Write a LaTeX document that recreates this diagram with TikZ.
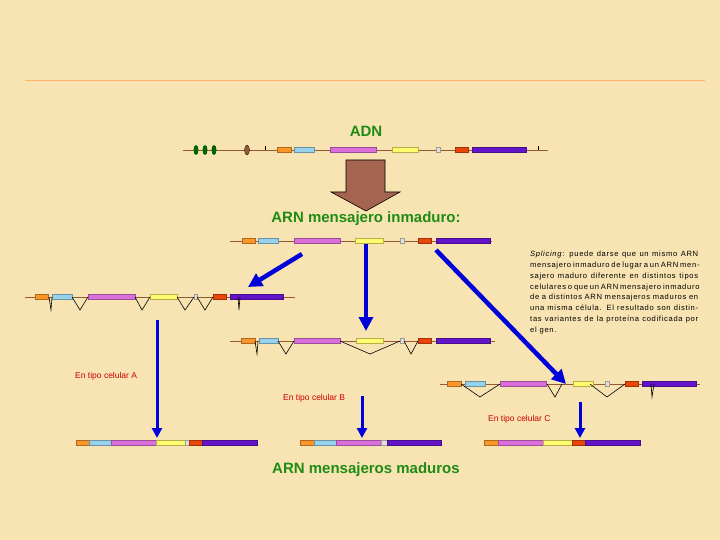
\documentclass[tikz,border=0pt]{standalone}
\usepackage{fontspec}
\setmainfont{Liberation Sans}
\newfontfamily\spacedfont[LetterSpace=9]{Liberation Sans}
\usetikzlibrary{arrows.meta}
\definecolor{bg}{RGB}{248,228,178}
\definecolor{eor}{RGB}{250,150,40}
\definecolor{eblue}{RGB}{150,210,235}
\definecolor{epink}{RGB}{220,110,220}
\definecolor{eyel}{RGB}{255,250,110}
\definecolor{egray}{RGB}{225,225,215}
\definecolor{ered}{RGB}{235,70,10}
\definecolor{epur}{RGB}{100,20,200}
\definecolor{tgreen}{RGB}{30,140,20}
\definecolor{lbrown}{RGB}{150,90,50}
\definecolor{abrown}{RGB}{165,100,80}
\newcommand{\exo}[4]{\fill[#4,draw=#4!70!black,line width=0.5pt] (#1,#3-2.5) rectangle (#2,#3+2.5);}
\newcommand{\vv}[4]{\draw[black,line width=0.6pt] (#1,#3) -- (#4,#3+13) -- (#2,#3);}
\begin{document}
\begin{tikzpicture}[x=1pt,y=-1pt,
  title/.style={font=\bfseries\fontsize{15}{15}\selectfont, text=tgreen, inner sep=0},
  lab/.style={font=\fontsize{8.5}{10}\selectfont, text=red!80!black, anchor=west, inner sep=0},
  barr/.style={blue!85!black, line width=4.5pt, -{Triangle[width=14pt,length=14pt]}},
  tarr/.style={blue!85!black, line width=3pt, -{Triangle[width=10pt,length=10pt]}},
  gl/.style={lbrown, line width=0.7pt}]
\useasboundingbox (0,0) rectangle (720,540);
\fill[bg] (0,0) rectangle (720,540);
\draw[orange!60, line width=0.8pt] (25,80) -- (705,80);

% DNA
\draw[gl] (183,150) -- (548,150);
\foreach \x in {196,205,214} \fill[green!40!black] (\x,150) ellipse (2.5 and 5);
\fill[lbrown,draw=black,line width=0.3pt] (247,150) ellipse (2.5 and 5);
\draw (265,146) -- (265,150); \draw (538,146) -- (538,150);
\exo{277}{291}{150}{eor}\exo{294}{314}{150}{eblue}\exo{330}{376}{150}{epink}
\exo{392}{418}{150}{eyel}\exo{436}{440}{150}{egray}\exo{455}{468}{150}{ered}\exo{472}{526}{150}{epur}

% big arrow
\fill[abrown,draw=black,line width=0.6pt] (346,160) -- (385,160) -- (385,192) -- (400,192) -- (366,211) -- (331,192) -- (346,192) -- cycle;

% titles
\node[title] (adn) at (366,131) {ADN};
\node[title] (inm) at (366,219) {ARN mensajero inmaduro:};
\node[title] (mad) at (366,470) {ARN mensajeros maduros};

% immature
\draw[gl] (230,241) -- (492,241);
\exo{242}{255}{241}{eor}\exo{258}{278}{241}{eblue}\exo{294}{340}{241}{epink}
\exo{355}{383}{241}{eyel}\exo{400}{404}{241}{egray}\exo{418}{431}{241}{ered}\exo{436}{490}{241}{epur}

% row A
\draw[gl] (25,297) -- (295,297);
\exo{35}{48}{297}{eor}\exo{52}{72}{297}{eblue}\exo{88}{135}{297}{epink}
\exo{150}{177}{297}{eyel}\exo{194}{197}{297}{egray}\exo{213}{226}{297}{ered}\exo{230}{283}{297}{epur}
\vv{49}{52}{297}{51}\vv{72}{88}{297}{80}\vv{135}{150}{297}{142}\vv{177}{194}{297}{185}\vv{197}{213}{297}{205}\vv{238}{240}{297}{239}

% row B
\draw[gl] (230,341) -- (495,341);
\exo{241}{255}{341}{eor}\exo{259}{278}{341}{eblue}\exo{294}{340}{341}{epink}
\exo{356}{383}{341}{eyel}\exo{400}{404}{341}{egray}\exo{418}{431}{341}{ered}\exo{436}{490}{341}{epur}
\vv{255}{258}{341}{257}\vv{278}{294}{341}{286}\vv{340}{400}{341}{370}\vv{404}{418}{341}{411}

% row C
\draw[gl] (440,384) -- (700,384);
\exo{447}{461}{384}{eor}\exo{465}{485}{384}{eblue}\exo{500}{546}{384}{epink}
\exo{573}{593}{384}{eyel}\exo{605}{609}{384}{egray}\exo{625}{638}{384}{ered}\exo{642}{696}{384}{epur}
\vv{461}{500}{384}{480}\vv{547}{562}{384}{555}\vv{590}{625}{384}{607}\vv{651}{654}{384}{652}

% mature
\exo{76}{89}{443}{eor}\exo{89}{111}{443}{eblue}\exo{111}{156}{443}{epink}\exo{156}{185}{443}{eyel}\exo{185}{189}{443}{egray}\exo{189}{202}{443}{ered}\exo{202}{257}{443}{epur}
\exo{300}{314}{443}{eor}\exo{314}{336}{443}{eblue}\exo{336}{381}{443}{epink}\exo{381}{387}{443}{egray}\exo{387}{441}{443}{epur}
\exo{484}{498}{443}{eor}\exo{498}{543}{443}{epink}\exo{543}{572}{443}{eyel}\exo{572}{585}{443}{ered}\exo{585}{640}{443}{epur}

% arrows
\coordinate (a1s) at (302,254); \coordinate (a1e) at (248,287);
\coordinate (a2s) at (366,244); \coordinate (a2e) at (366,331);
\coordinate (a3s) at (436,250); \coordinate (a3e) at (566,384);
\draw[barr] (a1s) -- (a1e);
\draw[barr] (a2s) -- (a2e);
\draw[barr] (a3s) -- (a3e);
\coordinate (a4s) at (157,320); \coordinate (a4e) at (157,438);
\coordinate (a5s) at (362,396); \coordinate (a5e) at (362,438);
\coordinate (a6s) at (580,402); \coordinate (a6e) at (580,438);
\draw[tarr] (a4s) -- (a4e);
\draw[tarr] (a5s) -- (a5e);
\draw[tarr] (a6s) -- (a6e);

% labels
\node[lab] (la) at (75,376) {En tipo celular A};
\node[lab] (lb) at (283,398) {En tipo celular B};
\node[lab] (lc) at (488,419) {En tipo celular C};

\node[anchor=north west, inner sep=0, text width=168pt, align=justify,
  font=\spacedfont\fontsize{7.6}{10.8}\selectfont] (txt) at (530,251)
  {\textit{Splicing}: puede darse que un mismo ARN mensajero inmaduro de lugar a un ARN mensajero maduro diferente en distintos tipos celulares o que un ARN mensajero inmaduro de a distintos ARN mensajeros maduros en una misma célula. El resultado son distintas variantes de la proteína codificada por el gen.};
\end{tikzpicture}
\end{document}
